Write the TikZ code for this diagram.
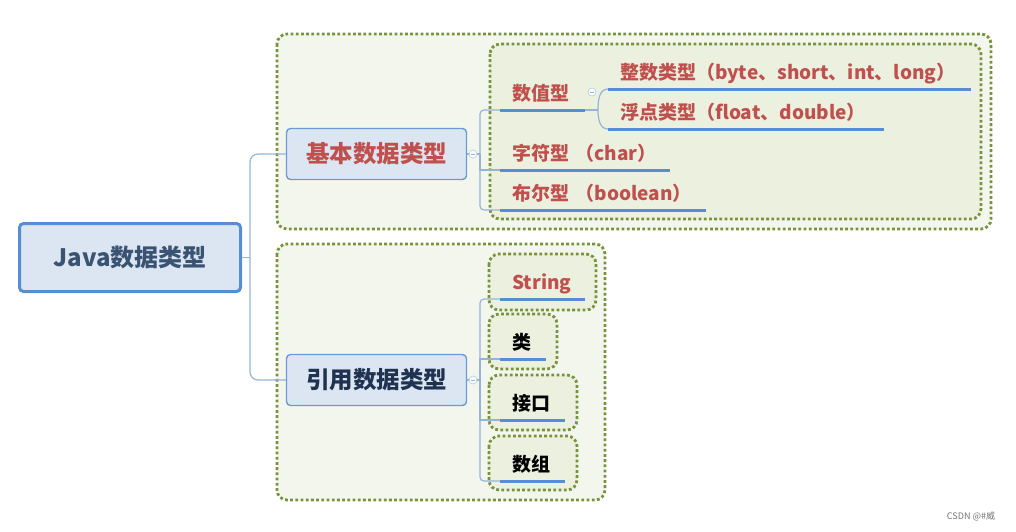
\documentclass[tikz,border=0pt]{standalone}
\usepackage{fontspec}
\setmainfont{Noto Sans CJK SC}
\usepackage{xcolor}
\usepackage{tikz}
\usetikzlibrary{positioning}
\definecolor{boxfill}{HTML}{DCE6F2}
\definecolor{boxline}{HTML}{6A9BD8}
\definecolor{rootline}{HTML}{558ED5}
\definecolor{linkblue}{HTML}{95B3D7}
\definecolor{ulblue}{HTML}{558ED5}
\definecolor{textred}{HTML}{C0504D}
\definecolor{textnavy}{HTML}{1F3350}
\definecolor{roottext}{HTML}{3A5372}
\definecolor{dotgreen}{HTML}{77933C}
\definecolor{grpfill}{HTML}{F3F6EC}
\definecolor{grpinner}{HTML}{EBF1DE}

\tikzset{
  mainbox/.style={draw=boxline, fill=boxfill, rounded corners=4pt, line width=1.4pt,
    minimum width=180pt, minimum height=51pt, font=\bfseries\fontsize{23.5}{24}\selectfont},
  leaf/.style={anchor=south west, inner xsep=12pt, inner ysep=9pt, text depth=0pt,
    align=left, text=textred, font=\bfseries\fontsize{19}{19}\selectfont},
  grp/.style={draw=dotgreen, line width=2.8pt, dash pattern=on 2.8pt off 2.4pt, rounded corners=10pt},
  link/.style={draw=linkblue, line width=1.2pt},
  uline/.style={draw=ulblue, line width=3pt},
  fold/.style={circle, draw=linkblue!70, fill=white, inner sep=0pt, minimum size=8pt, line width=0.6pt,
    path picture={\draw[linkblue, line width=0.6pt] ([xshift=-2pt]path picture bounding box.center) -- ([xshift=2pt]path picture bounding box.center);}}
}

\begin{document}
\begin{tikzpicture}[x=1pt, y=-1pt]
  \useasboundingbox (0,0) rectangle (1016,531);

  % dotted groups
  \draw[grp, fill=grpfill] (277,34) rectangle (991,229);
  \draw[grp, fill=grpinner] (490,44) rectangle (981,219);
  \draw[grp, fill=grpfill] (277,244) rectangle (605,500);
  \draw[grp, fill=grpinner] (489,254) rectangle (596,310);
  \draw[grp, fill=grpinner] (489,314) rectangle (557,369);
  \draw[grp, fill=grpinner] (489,375) rectangle (577,430);
  \draw[grp, fill=grpinner] (489,436) rectangle (577,490);

  \node[mainbox, draw=rootline, line width=3pt, minimum width=221pt, minimum height=68pt,
    font=\bfseries\fontsize{24}{24}\selectfont, text=roottext] (root) at (130,257.5) {Java数据类型};
  \node[mainbox, text=textred] (basic) at (376.5,154) {基本数据类型};
  \node[mainbox, text=textnavy] (ref) at (376.5,380) {引用数据类型};

  % basic types
  \node[leaf, text width=61pt] (num) at (500,110) {数值型};
  \node[leaf, text width=339pt] (int) at (608,89) {整数类型（byte、short、int、long）};
  \node[leaf, text width=252pt] (float) at (608,129) {浮点类型（float、double）};
  \node[leaf, text width=146pt] (chr) at (500,170) {字符型 （char）};
  \node[leaf, text width=182pt] (bool) at (500,210) {布尔型 （boolean）};

  % reference types
  \node[leaf, text width=61pt] (str) at (500,299) {String};
  \node[leaf, text width=22pt, text=black] (cls) at (500,359) {类};
  \node[leaf, text width=41pt, text=black] (iface) at (500,420) {接口};
  \node[leaf, text width=41pt, text=black] (arr) at (500,481) {数组};

  \foreach \n in {num,int,float,chr,bool,str,cls,iface,arr}
    \draw[uline] (\n.south west) -- (\n.south east);

  % connectors
  \coordinate (rootj) at (250,257.5);
  \draw[link] (root.east) -- (rootj);
  \draw[link, rounded corners=8pt] (rootj) |- (basic.west);
  \draw[link, rounded corners=8pt] (rootj) |- (ref.west);

  \coordinate (basicj) at (480,154);
  \draw[link] (basic.east) -- (basicj);
  \draw[link, rounded corners=4pt] (basicj) |- (num.south west);
  \draw[link] (basicj) -- (chr.south west -| basicj) -- (chr.south west);
  \draw[link, rounded corners=4pt] (basicj) |- (bool.south west);
  \node[fold] (basicfold) at (473,154) {};

  \coordinate (numj) at (598,110);
  \draw[link] (num.south east) -- (numj);
  \draw[link] (numj) to[out=90, in=180] (int.south west);
  \draw[link] (numj) to[out=-90, in=180] (float.south west);
  \node[fold] (numfold) at (592,92) {};

  \coordinate (refj) at (480,380);
  \draw[link] (ref.east) -- (refj);
  \draw[link, rounded corners=4pt] (refj) |- (str.south west);
  \draw[link] (refj) |- (cls.south west);
  \draw[link] (refj) |- (iface.south west);
  \draw[link, rounded corners=4pt] (refj) |- (arr.south west);
  \node[fold] (reffold) at (473,380) {};

  \node[font=\fontsize{9}{10}\selectfont, text=black!55] (mark) at (971,516) {CSDN @\#威};
\end{tikzpicture}
\end{document}
